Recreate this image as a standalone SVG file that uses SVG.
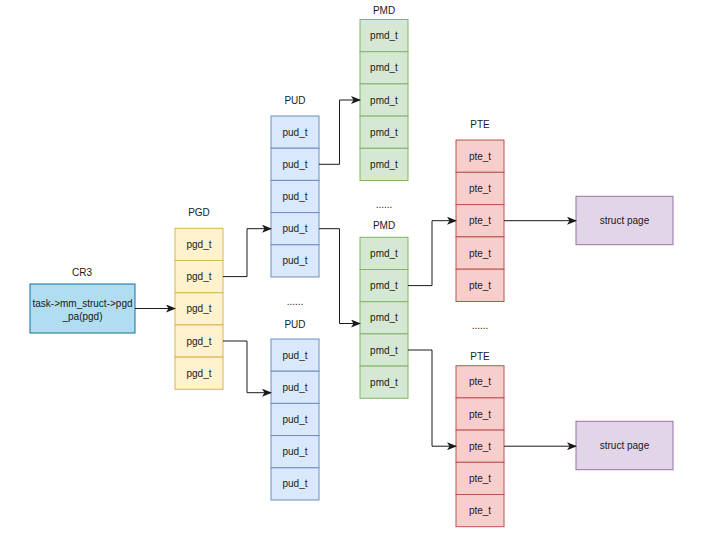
<svg xmlns="http://www.w3.org/2000/svg" width="720" height="550" viewBox="0 0 720 550">
<defs>
<style>
text{font-family:"Liberation Sans",Arial,Helvetica,sans-serif;font-size:10px;fill:#1a1a1a;text-anchor:middle;dominant-baseline:central}
.pgd rect{fill:#fff2cc;stroke:#d6b656}
.pud rect{fill:#dae8fc;stroke:#6c8ebf}
.pmd rect{fill:#d5e8d4;stroke:#82b366}
.pte rect{fill:#f8cecc;stroke:#b85450}
.page rect{fill:#e1d5e7;stroke:#9673a6}
.cr3 rect{fill:#b1ddf0;stroke:#10739e}
.conn path{fill:none;stroke:#1a1a1a;stroke-width:1;marker-end:url(#arr)}
</style>
<marker id="arr" viewBox="0 0 10 8" refX="9" refY="4" markerWidth="10" markerHeight="8" markerUnits="userSpaceOnUse" orient="auto">
<path d="M0,0 L10,4 L0,8 L2.5,4 z" fill="#1a1a1a"/>
</marker>
</defs>
<rect width="720" height="550" fill="#ffffff"/>

<g id="cr3" class="cr3">
<text x="82" y="272.7">CR3</text>
<rect x="30" y="284" width="105" height="49"/>
<text x="82.5" y="303">task-&gt;mm_struct-&gt;pgd</text>
<text x="82.5" y="316">_pa(pgd)</text>
</g>

<g id="pgd" class="pgd">
<text x="199" y="212">PGD</text>
<rect x="175" y="228.3" width="48" height="32.2"/><text x="199" y="244.4">pgd_t</text>
<rect x="175" y="260.5" width="48" height="32.2"/><text x="199" y="276.6">pgd_t</text>
<rect x="175" y="292.7" width="48" height="32.2"/><text x="199" y="308.8">pgd_t</text>
<rect x="175" y="324.9" width="48" height="32.2"/><text x="199" y="341">pgd_t</text>
<rect x="175" y="357.1" width="48" height="32.2"/><text x="199" y="373.2">pgd_t</text>
</g>

<g id="pud1" class="pud">
<text x="295" y="100">PUD</text>
<rect x="271" y="116" width="48" height="32.2"/><text x="295" y="132.1">pud_t</text>
<rect x="271" y="148.2" width="48" height="32.2"/><text x="295" y="164.3">pud_t</text>
<rect x="271" y="180.4" width="48" height="32.2"/><text x="295" y="196.5">pud_t</text>
<rect x="271" y="212.6" width="48" height="32.2"/><text x="295" y="228.7">pud_t</text>
<rect x="271" y="244.8" width="48" height="32.2"/><text x="295" y="260.9">pud_t</text>
</g>

<g id="pud-dots"><text x="295" y="301">......</text></g>

<g id="pud2" class="pud">
<text x="295" y="324">PUD</text>
<rect x="271" y="339" width="48" height="32.2"/><text x="295" y="355.1">pud_t</text>
<rect x="271" y="371.2" width="48" height="32.2"/><text x="295" y="387.3">pud_t</text>
<rect x="271" y="403.4" width="48" height="32.2"/><text x="295" y="419.5">pud_t</text>
<rect x="271" y="435.6" width="48" height="32.2"/><text x="295" y="451.7">pud_t</text>
<rect x="271" y="467.8" width="48" height="32.2"/><text x="295" y="483.9">pud_t</text>
</g>

<g id="pmd1" class="pmd">
<text x="384" y="10">PMD</text>
<rect x="360" y="19.5" width="48" height="32.2"/><text x="384" y="35.6">pmd_t</text>
<rect x="360" y="51.7" width="48" height="32.2"/><text x="384" y="67.8">pmd_t</text>
<rect x="360" y="83.9" width="48" height="32.2"/><text x="384" y="100">pmd_t</text>
<rect x="360" y="116.1" width="48" height="32.2"/><text x="384" y="132.2">pmd_t</text>
<rect x="360" y="148.3" width="48" height="32.2"/><text x="384" y="164.4">pmd_t</text>
</g>

<g id="pmd-dots"><text x="384" y="204">......</text></g>

<g id="pmd2" class="pmd">
<text x="384" y="225">PMD</text>
<rect x="360" y="237.3" width="48" height="32.2"/><text x="384" y="253.4">pmd_t</text>
<rect x="360" y="269.5" width="48" height="32.2"/><text x="384" y="285.6">pmd_t</text>
<rect x="360" y="301.7" width="48" height="32.2"/><text x="384" y="317.8">pmd_t</text>
<rect x="360" y="333.9" width="48" height="32.2"/><text x="384" y="350">pmd_t</text>
<rect x="360" y="366.1" width="48" height="32.2"/><text x="384" y="382.2">pmd_t</text>
</g>

<g id="pte1" class="pte">
<text x="480" y="124">PTE</text>
<rect x="456" y="140" width="48" height="32.3"/><text x="480" y="156.1">pte_t</text>
<rect x="456" y="172.3" width="48" height="32.3"/><text x="480" y="188.4">pte_t</text>
<rect x="456" y="204.6" width="48" height="32.3"/><text x="480" y="220.7">pte_t</text>
<rect x="456" y="236.9" width="48" height="32.3"/><text x="480" y="253">pte_t</text>
<rect x="456" y="269.2" width="48" height="32.3"/><text x="480" y="285.3">pte_t</text>
</g>

<g id="pte-dots"><text x="480" y="325">......</text></g>

<g id="pte2" class="pte">
<text x="480" y="356.7">PTE</text>
<rect x="456" y="365.7" width="48" height="32.2"/><text x="480" y="381.8">pte_t</text>
<rect x="456" y="397.9" width="48" height="32.2"/><text x="480" y="414">pte_t</text>
<rect x="456" y="430.1" width="48" height="32.2"/><text x="480" y="446.2">pte_t</text>
<rect x="456" y="462.3" width="48" height="32.2"/><text x="480" y="478.4">pte_t</text>
<rect x="456" y="494.5" width="48" height="32.2"/><text x="480" y="510.6">pte_t</text>
</g>

<g id="page1" class="page">
<rect x="576" y="196.3" width="97" height="48.4"/><text x="624.5" y="220.5">struct page</text>
</g>
<g id="page2" class="page">
<rect x="576" y="421.3" width="97" height="48.4"/><text x="624.5" y="445.5">struct page</text>
</g>

<g id="connectors" class="conn">
<path d="M135,308.5 H175"/>
<path d="M223,276.6 H247 V228.7 H271"/>
<path d="M223,341 H247 V392.7 H271"/>
<path d="M319,164.3 H339.5 V100 H360"/>
<path d="M319,228.7 H339.5 V323.5 H360"/>
<path d="M408,285.6 H432 V220.7 H456"/>
<path d="M408,350 H432 V446.2 H456"/>
<path d="M504,220.7 H576"/>
<path d="M504,446.2 H576"/>
</g>
</svg>
